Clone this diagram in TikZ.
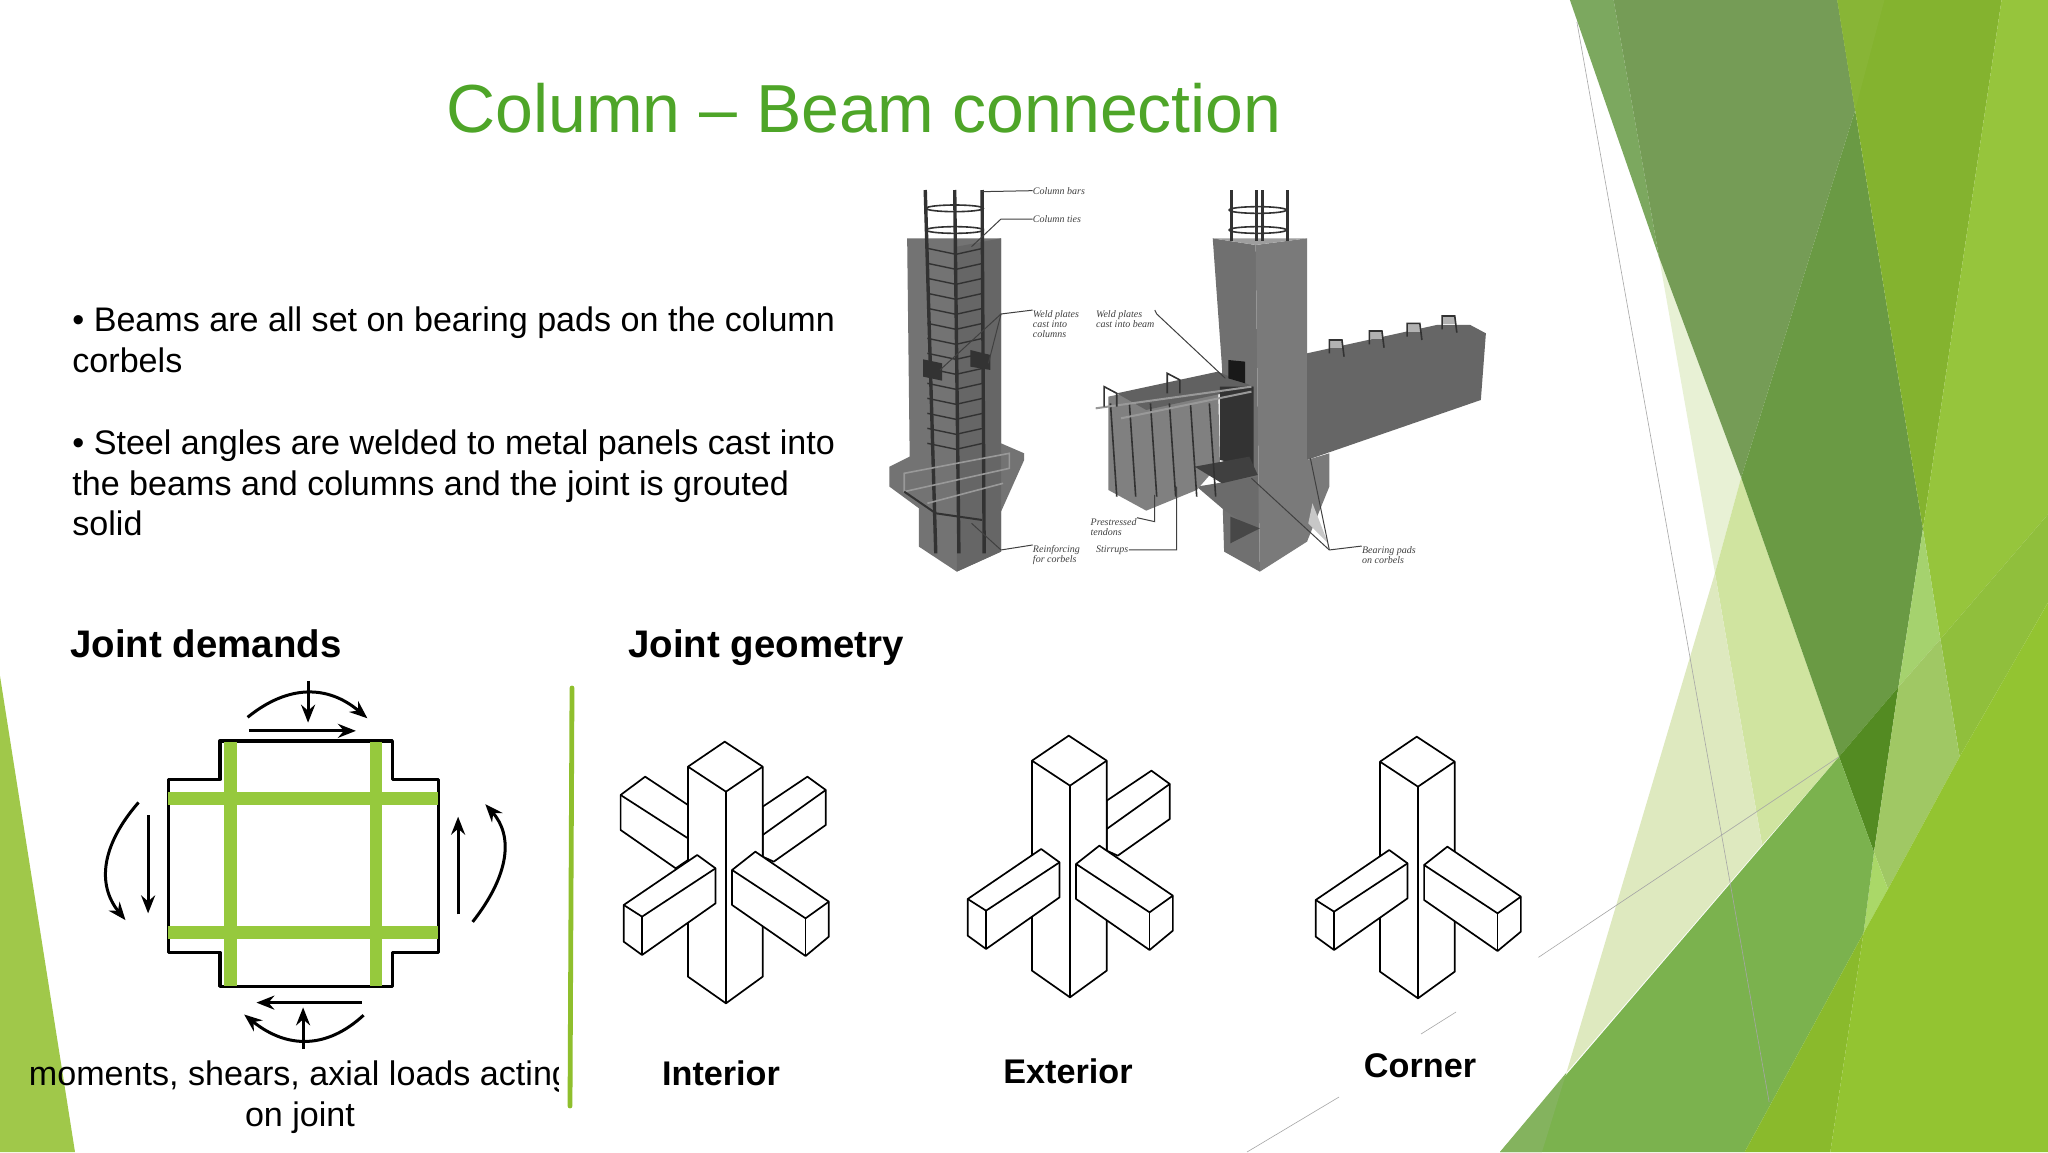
\documentclass[tikz,border=0pt]{standalone}
\usepackage{fontspec}
\setmainfont{Liberation Sans}
\newfontfamily\notefont{Liberation Serif}
\usetikzlibrary{arrows.meta}

\definecolor{titlegreen}{RGB}{78,165,40}
\definecolor{bargreen}{RGB}{150,201,61}
\definecolor{dividegreen}{RGB}{143,191,45}
\definecolor{cornergreen}{RGB}{160,200,74}
\definecolor{rebardark}{RGB}{50,50,50}

\tikzset{
    outline/.style={draw=black, line width=1.7pt, line join=round},
    greenbar/.style={bargreen, line width=6.3pt},
    loadarrow/.style={line width=1.5pt, -{Stealth[length=9pt,width=7pt,inset=3pt]}},
    sketch/.style={draw=black, line width=0.85pt, fill=white, line join=round},
    sketchline/.style={draw=black, line width=0.85pt},
    rebar/.style={rebardark, line width=1.7pt},
    tie/.style={rebardark, line width=0.7pt},
    rod/.style={black!40, line width=0.8pt},
    leader/.style={draw=black!75, line width=0.5pt},
    note/.style={font=\notefont\itshape\fontsize{5}{5}\selectfont, text=black!75, align=left, inner sep=0pt},
    bodytext/.style={font=\fontsize{17.05}{20.45}\selectfont, align=left, inner sep=0pt, anchor=north west},
    heading/.style={font=\bfseries\fontsize{19.2}{22}\selectfont, inner sep=0pt},
    jointname/.style={font=\bfseries\fontsize{17.1}{20}\selectfont, inner sep=0pt},
    facet/.style={draw=none},
    hairline/.style={black!35, line width=0.3pt}
}

% one joint sketch without the rear beams
\newcommand{\jointcolumn}{
    \draw[sketch] (160,200) -- (220,125) -- (282,200) -- (282,830) -- (222,910) -- (160,830) -- cycle;
    \draw[sketchline] (160,200) -- (222,275) -- (282,200);
    \draw[sketchline] (222,275) -- (222,910);
}
\newcommand{\jointfront}{
    \draw[sketch] (175,465) -- (205,505) -- (205,610) -- (85,765) -- (55,725) -- (55,615) -- cycle;
    \draw[sketchline] (55,615) -- (85,650) -- (205,505);
    \draw[sketchline] (85,650) -- (85,765);
    \draw[sketch] (270,455) -- (390,605) -- (390,710) -- (352,768) -- (232,615) -- (232,510) -- cycle;
    \draw[sketchline] (232,510) -- (352,655) -- (390,605);
    \draw[sketchline] (352,655) -- (352,768);
}
\newcommand{\jointrearright}{
    \draw[sketch] (282,320) -- (355,230) -- (385,270) -- (385,375) -- (300,485) -- (282,470) -- cycle;
    \draw[sketchline] (282,405) -- (385,270);
}

\begin{document}
\begin{tikzpicture}[x=0.5pt, y=-0.5pt]
    \useasboundingbox[fill=white] (0,0) rectangle (2048,1152);

    % Facets on the right
    \begin{scope}[shift={(1500,0)}, xscale=0.3495, yscale=0.7347]
        \fill[facet, fill={rgb,255:red,232;green,241;blue,213}] (455,350) -- (690,650) -- (615,780) -- cycle;
        \fill[facet, fill={rgb,255:red,208;green,228;blue,160}] (690,650) -- (615,780) -- (750,1150) -- (970,1030) -- cycle;
        \fill[facet, fill={rgb,255:red,222;green,233;blue,191}] (615,780) -- (750,1150) -- (190,1460) -- cycle;
        \fill[facet, fill={rgb,255:red,124;green,168;blue,95}] (200,0) -- (325,0) -- (455,350) -- cycle;
        \fill[facet, fill={rgb,255:red,117;green,156;blue,86}] (325,0) -- (965,0) -- (1016,150) -- (690,650) -- (455,350) -- cycle;
        \fill[facet, fill={rgb,255:red,106;green,154;blue,68}] (1016,150) -- (1210,720) -- (1140,935) -- (970,1030) -- (690,650) -- cycle;
        \fill[facet, fill={rgb,255:red,83;green,139;blue,34}] (1140,935) -- (1070,1160) -- (970,1030) -- cycle;
        \fill[facet, fill={rgb,255:red,132;green,179;blue,47}] (965,0) -- (1435,0) -- (1210,720) -- cycle;
        \fill[facet, fill={rgb,255:red,136;green,181;blue,54}] (965,0) -- (1100,0) -- (1016,150) -- cycle;
        \fill[facet, fill={rgb,255:red,150;green,197;blue,60}] (1435,0) -- (1568,0) -- (1568,700) -- (1260,870) -- (1210,720) -- cycle;
        \fill[facet, fill={rgb,255:red,144;green,191;blue,60}] (1260,870) -- (1568,700) -- (1568,820) -- (1315,1030) -- cycle;
        \fill[facet, fill={rgb,255:red,165;green,210;blue,110}] (1210,720) -- (1260,870) -- (1140,935) -- cycle;
        \fill[facet, fill={rgb,255:red,160;green,200;blue,100}] (1140,935) -- (1260,870) -- (1315,1030) -- (1110,1210) -- (1070,1160) -- cycle;
        \fill[facet, fill={rgb,255:red,170;green,216;blue,104}] (1070,1160) -- (1110,1210) -- (1040,1270) -- cycle;
        \fill[facet, fill={rgb,255:red,123;green,178;blue,78}] (0,1568) -- (970,1030) -- (1070,1160) -- (1040,1270) -- (700,1568) -- cycle;
        \fill[facet, fill={rgb,255:red,132;green,179;blue,94}] (0,1568) -- (190,1460) -- (120,1568) -- cycle;
        \fill[facet, fill={rgb,255:red,138;green,186;blue,44}] (700,1568) -- (1040,1270) -- (945,1568) -- cycle;
        \fill[facet, fill={rgb,255:red,147;green,196;blue,49}] (945,1568) -- (1040,1270) -- (1110,1210) -- (1315,1030) -- (1568,820) -- (1568,1568) -- cycle;
        \draw[hairline] (220,30) -- (770,1500);
        \draw[hairline] (110,1303) -- (970,1030);
    \end{scope}
    \fill[cornergreen] (0,676) -- (75,1152) -- (0,1152) -- cycle;
    \draw[hairline] (1247,1152) -- (1339,1097);
    \draw[hairline] (1421,1034) -- (1456,1012);

    % Title and text
    \node[font=\fontsize{34}{36}\selectfont, text=titlegreen, inner sep=0pt] (title) at (864,108) {Column – Beam connection};
    \node[bodytext] (beamtext) at (72,306) {• Beams are all set on bearing pads on the column\\corbels};
    \node[bodytext] (angletext) at (72,429) {• Steel angles are welded to metal panels cast into\\the beams and columns and the joint is grouted\\solid};
    \node[heading, anchor=base west] (demandhead) at (70,657) {Joint demands};
    \node[heading, anchor=base west] (geomhead) at (628,657) {Joint geometry};

    % Left column, photo
    \begin{scope}[shift={(860,170)}, xscale=0.4209, yscale=0.3333]
        \fill[black!55] (112,205) -- (335,205) -- (335,820) -- (390,850) -- (390,870) -- (335,1025) -- (335,1145) -- (230,1205) -- (140,1130) -- (140,1015) -- (70,950) -- (70,890) -- (118,860) -- cycle;
        \fill[black!60] (230,230) -- (335,205) -- (335,1145) -- (230,1205) -- cycle;
        \foreach \xa/\xb in {155/180,225/235,290/295}
            \draw[rebar] (\xa,60) -- (\xb,1150);
        \foreach \y in {235,280,...,820}
            \draw[tie] (160,\y) -- (228,\y+18) -- (292,\y);
        \foreach \y in {115,180}
            \draw[rebardark, line width=0.8pt] (225,\y) ellipse [x radius=68, y radius=10];
        \fill[black!80] (150,568) -- (195,580) -- (195,632) -- (150,620) -- cycle;
        \fill[black!80] (262,540) -- (310,555) -- (310,600) -- (262,590) -- cycle;
        \draw[rod] (105,910) -- (355,850) -- (355,895) -- (105,965) -- cycle;
        \draw[rod] (160,1000) -- (340,940);
        \draw[rebardark, line width=1pt] (105,965) -- (180,1030) -- (290,1050);
        \coordinate (barend) at (290,65);
        \coordinate (tieend) at (265,230);
        \coordinate (plateendl) at (190,600);
        \coordinate (plateendr) at (305,580);
        \coordinate (corbelend) at (265,1060);
        \node[note, anchor=west] (barnote) at (410,62) {Column bars};
        \node[note, anchor=west] (tienote) at (410,147) {Column ties};
        \node[note, anchor=west] (platenote) at (410,462) {Weld plates\\cast into\\columns};
        \node[note, anchor=west] (corbelnote) at (410,1155) {Reinforcing\\for corbels};
        \draw[leader] (barnote.west) -- (barend);
        \draw[leader] (tienote.west) -- (335,147) -- (tieend);
        \draw[leader] (platenote.north west) -- (335,432) -- (plateendr);
        \draw[leader] (335,432) -- (plateendl);
        \draw[leader] (corbelnote.north west) -- (335,1140) -- (corbelend);

        % Right column with beams, photo
        \fill[black!56] (838,205) -- (940,225) -- (950,1205) -- (865,1145) -- (862,1020) -- (860,590) -- cycle;
        \fill[black!52] (940,225) -- (1062,205) -- (1062,1115) -- (950,1205) -- cycle;
        \fill[black!38] (838,205) -- (1062,205) -- (940,225) -- cycle;
        \fill[black!60] (1062,550) -- (1370,465) -- (1450,465) -- (1487,490) -- (1475,690) -- (1062,870) -- cycle;
        \fill[black!52] (1062,870) -- (1115,850) -- (1115,950) -- (1062,1115) -- cycle;
        \fill[black!22] (1075,1000) -- (1112,1120) -- (1065,1060) -- cycle;
        \fill[black!58] (800,950) -- (945,920) -- (945,1085) -- (865,1020) -- cycle;
        \fill[black!72] (880,1040) -- (950,1075) -- (880,1120) -- cycle;
        \fill[black!50] (590,680) -- (850,610) -- (855,880) -- (800,960) -- (680,1022) -- (590,960) -- cycle;
        \fill[black!62] (610,670) -- (850,605) -- (935,650) -- (680,720) -- cycle;
        \fill[black!80] (855,650) -- (935,650) -- (935,890) -- (855,870) -- cycle;
        \fill[black!75] (795,890) -- (925,860) -- (945,915) -- (860,940) -- cycle;
        \fill[black!90] (875,570) -- (915,575) -- (915,640) -- (875,625) -- cycle;
        \foreach \x in {882,942,956,1015}
            \draw[rebar] (\x,60) -- (\x,212);
        \foreach \y in {120,180}
            \draw[rebardark, line width=0.8pt] (945,\y) ellipse [x radius=68, y radius=10];
        \foreach \x/\y in {1130/510,1225/483,1315/460,1398/438} {
            \fill[black!30] (\x-15,\y) -- (\x+15,\y) -- (\x+15,\y+25) -- (\x-15,\y+25) -- cycle;
            \draw[rebar, line width=0.8pt] (\x-15,\y+40) -- (\x-15,\y) -- (\x+15,\y) -- (\x+20,\y+50);
        }
        \foreach \x in {595,640,690,735,785,830}
            \draw[rebar, line width=0.8pt] (\x,700) -- (\x+15,980);
        \draw[rod, line width=1pt] (560,715) -- (930,650);
        \draw[rod, line width=1pt] (620,745) -- (930,665);
        \foreach \x/\y in {580/650,730/610}
            \draw[rebar, line width=0.8pt] (\x,\y+60) -- (\x,\y) -- (\x+30,\y+20) -- (\x+30,\y+60);
        \coordinate (beamplateend) at (868,625);
        \coordinate (tendonend) at (700,975);
        \coordinate (stirrupend) at (752,950);
        \coordinate (padendl) at (930,925);
        \coordinate (padendr) at (1070,865);
        \node[note, anchor=west] (beamplatenote) at (560,447) {Weld plates\\cast into beam};
        \node[note, anchor=west] (tendonnote) at (547,1070) {Prestressed\\tendons};
        \node[note, anchor=west] (stirrupnote) at (560,1140) {Stirrups};
        \node[note, anchor=west] (padnote) at (1192,1155) {Bearing pads\\on corbels};
        \draw[leader] (beamplatenote.north east) -- (705,432) -- (beamplateend);
        \draw[leader] (tendonnote.north east) -- (700,1055) -- (tendonend);
        \draw[leader] (stirrupnote.east) -- (752,1140) -- (stirrupend);
        \draw[leader] (padnote.north west) -- (1115,1140) -- (padendl);
        \draw[leader] (1115,1140) -- (padendr);
    \end{scope}

    % Joint demands
    \begin{scope}[xscale=0.3827, yscale=0.3393, shift={(0,1827)}]
        \draw[outline] (575,357) -- (1025,357) -- (1025,470) -- (1145,470) -- (1145,980) -- (1025,980) -- (1025,1080) -- (575,1080) -- (575,980) -- (440,980) -- (440,470) -- (575,470) -- cycle;
        \foreach \x in {602,982}
            \draw[greenbar] (\x,360) -- (\x,1080);
        \foreach \y in {527,922}
            \draw[greenbar] (440,\y) -- (1145,\y);
        \draw[loadarrow] (647,287) .. controls (753,190) and (857,191) .. (960,290);
        \draw[loadarrow] (805,180) -- (805,303);
        \draw[loadarrow] (650,327) -- (930,327);
        \draw[loadarrow] (950,1165) .. controls (854,1265) and (750,1265) .. (638,1163);
        \draw[loadarrow] (792,1265) -- (792,1142);
        \draw[loadarrow] (945,1128) -- (670,1128);
        \draw[loadarrow] (362,538) .. controls (264,665) and (253,781) .. (328,885);
        \draw[loadarrow] (387,575) -- (387,865);
        \draw[loadarrow] (1235,890) .. controls (1331,752) and (1342,637) .. (1268,543);
        \draw[loadarrow] (1197,868) -- (1197,580);
    \end{scope}
    \begin{scope}
        \clip (0,1050) rectangle (558,1152);
        \node[font=\fontsize{17.05}{20.45}\selectfont, align=center, inner sep=0pt] (loadtext) at (300,1097) {moments, shears, axial loads acting\\on joint};
    \end{scope}
    \draw[dividegreen, line width=2.4pt, line cap=round] (572,688) -- (570,1106);

    % Joint geometry
    \begin{scope}[shift={(590,700)}, xscale=0.6124, yscale=0.3333]
        \draw[sketch] (160,315) -- (90,230) -- (50,285) -- (50,390) -- (140,505) -- (160,480) -- cycle;
        \draw[sketchline] (50,285) -- (160,415);
        \jointrearright
        \jointcolumn
        \jointfront
    \end{scope}
    \begin{scope}[shift={(934,694)}, xscale=0.6124, yscale=0.3333]
        \jointrearright
        \jointcolumn
        \jointfront
    \end{scope}
    \begin{scope}[shift={(1282,695)}, xscale=0.6124, yscale=0.3333]
        \jointcolumn
        \jointfront
    \end{scope}
    \node[jointname] (interiorname) at (721,1073) {Interior};
    \node[jointname] (exteriorname) at (1068,1071) {Exterior};
    \node[jointname] (cornername) at (1420,1066) {Corner};
\end{tikzpicture}
\end{document}
